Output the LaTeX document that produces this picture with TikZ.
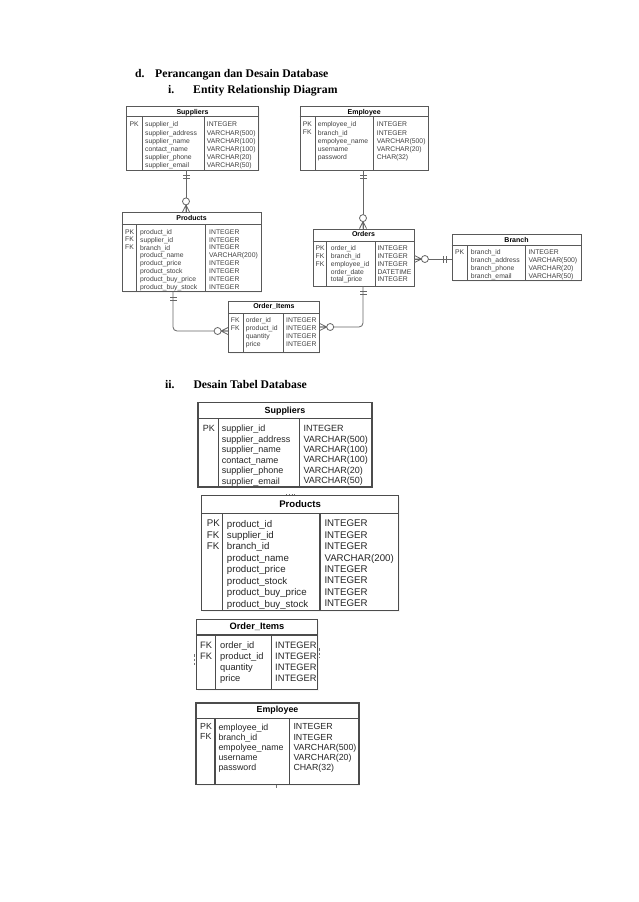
\documentclass[tikz,border=0pt]{standalone}
\usepackage{fontspec}
\setmainfont{Liberation Serif}
\setsansfont{Liberation Sans}
\usetikzlibrary{fit,shadows}
\tikzstyle{heading} = [font=\bfseries\fontsize{11.7}{14}\selectfont, inner sep=0pt, anchor=base west]
\tikzstyle{erd} = [draw=black!65, line width=0.8pt, fill=white, inner sep=0pt, drop shadow={opacity=0.07, shadow xshift=1pt, shadow yshift=-1pt}]
\tikzstyle{erdgrid} = [draw=black!65, line width=0.8pt]
\tikzstyle{erdhead} = [font=\sffamily\bfseries\fontsize{7}{8}\selectfont, inner sep=0pt]
\tikzstyle{tbl} = [draw=black!70, line width=1.1pt, fill=white, inner sep=0pt, drop shadow={opacity=0.08, shadow xshift=1.2pt, shadow yshift=-1.2pt}]
\tikzstyle{tblgrid} = [draw=black!70, line width=1.1pt]
\tikzstyle{rel} = [draw=black!60, line width=0.8pt, rounded corners=4pt]
\tikzset{
  erdcol/.style={anchor=north west, inner sep=0pt, align=left, text=black!75, font=\sffamily\fontsize{6.8}{#1}\selectfont, yshift=2.45pt},
  erdcol/.default=8,
  dcol/.style 2 args={anchor=north west, inner sep=0pt, align=left, text=black!85, font=\sffamily\fontsize{#1}{#2}\selectfont, yshift=0.36*#1pt},
  dhead/.style={font=\sffamily\bfseries\fontsize{#1}{#1}\selectfont, inner sep=0pt},
  one/.pic={\draw[black!60, line width=0.8pt] (5,-3.5) -- (5,3.5) (8,-3.5) -- (8,3.5);},
  zmany/.pic={\draw[black!60, line width=0.8pt] (0,-3.5) -- (7,0) -- (0,3.5) (0,0) -- (7,0);
    \draw[black!60, line width=0.8pt, fill=white] (10.5,0) circle (3.5pt);}
}
% header line and the two column lines of a table
\newcommand{\tablegrid}[5]{\draw[#1] (#2.west |- 0,#3) -- (#2.east |- 0,#3)
  (#4,#3) -- (#4,0 |- #2.south) (#5,#3) -- (#5,0 |- #2.south);}

\begin{document}
\begin{tikzpicture}[x=1pt, y=-1pt]
    \fill[white] (0,0) rectangle (638,902);
    \useasboundingbox (0,0) rectangle (638,902);
    % headings
    \node[heading] (hd) at (135,77.5) {d.};
    \node[heading] (hd-t) at (155,77.5) {Perancangan dan Desain Database};
    \node[heading] (hi) at (168,93.5) {i.};
    \node[heading] (hi-t) at (193,93.5) {Entity Relationship Diagram};
    \node[heading] (hii) at (165,388.3) {ii.};
    \node[heading] (hii-t) at (193.3,388.3) {Desain Tabel Database};

    % ERD
    \node[erd, fit={(126.5,106.5) (258.5,170)}] (sup) {};
    \tablegrid{erdgrid}{sup}{116.8}{142.3}{204.3}
    \node[erdhead] (sup-h) at (sup.north |- 0,112.3) {Suppliers};
    \node[erdcol=8.2] (sup-k) at (129.3,124.3) {PK};
    \node[erdcol=8.2] (sup-n) at (145,124.3) {supplier\_id\\supplier\_address\\supplier\_name\\contact\_name\\supplier\_phone\\supplier\_email};
    \node[erdcol=8.2] (sup-y) at (206.7,124.3) {INTEGER\\VARCHAR(500)\\VARCHAR(100)\\VARCHAR(100)\\VARCHAR(20)\\VARCHAR(50)};

    \node[erd, fit={(300,106.7) (428.3,170)}] (emp) {};
    \tablegrid{erdgrid}{emp}{116.8}{315}{373.3}
    \node[erdhead] (emp-h) at (emp.north |- 0,112.3) {Employee};
    \node[erdcol=8.2] (emp-k) at (302.7,124.3) {PK\\FK};
    \node[erdcol=8.2] (emp-n) at (317.7,124.3) {employee\_id\\branch\_id\\empolyee\_name\\username\\password};
    \node[erdcol=8.2] (emp-y) at (376.7,124.3) {INTEGER\\INTEGER\\VARCHAR(500)\\VARCHAR(20)\\CHAR(32)};

    \node[erd, fit={(122,212.3) (261,291.7)}] (prod) {};
    \tablegrid{erdgrid}{prod}{224.3}{136.7}{205.7}
    \node[erdhead] (prod-h) at (prod.north |- 0,217.7) {Products};
    \node[erdcol=7.86] (prod-k) at (125,231.7) {PK\\FK\\FK};
    \node[erdcol=7.86] (prod-n) at (140,231.7) {product\_id\\supplier\_id\\branch\_id\\product\_name\\product\_price\\product\_stock\\product\_buy\_price\\product\_buy\_stock};
    \node[erdcol=7.86] (prod-y) at (209,231.7) {INTEGER\\INTEGER\\INTEGER\\VARCHAR(200)\\INTEGER\\INTEGER\\INTEGER\\INTEGER};

    \node[erd, fit={(313,229) (414,286)}] (ord) {};
    \tablegrid{erdgrid}{ord}{241}{326}{375}
    \node[erdhead] (ord-h) at (ord.north |- 0,234.3) {Orders};
    \node[erdcol=7.75] (ord-k) at (315.5,248.3) {PK\\FK\\FK};
    \node[erdcol=7.75] (ord-n) at (330.7,248.3) {order\_id\\branch\_id\\employee\_id\\order\_date\\total\_price};
    \node[erdcol=7.75] (ord-y) at (377.3,248.3) {INTEGER\\INTEGER\\INTEGER\\DATETIME\\INTEGER};

    \node[erd, fit={(452,234.3) (581,280.7)}] (bra) {};
    \tablegrid{erdgrid}{bra}{245}{467}{525}
    \node[erdhead] (bra-h) at (bra.north |- 0,239.5) {Branch};
    \node[erdcol=8.1] (bra-k) at (455,251.7) {PK};
    \node[erdcol=8.1] (bra-n) at (470.7,251.7) {branch\_id\\branch\_address\\branch\_phone\\branch\_email};
    \node[erdcol=8.1] (bra-y) at (528.3,251.7) {INTEGER\\VARCHAR(500)\\VARCHAR(20)\\VARCHAR(50)};

    \node[erd, fit={(228.5,301) (319.3,352.5)}] (oi) {};
    \tablegrid{erdgrid}{oi}{313}{243}{283}
    \node[erdhead] (oi-h) at (oi.north |- 0,306.7) {Order\_Items};
    \node[erdcol] (oi-k) at (230.7,320) {FK\\FK};
    \node[erdcol] (oi-n) at (245.7,320) {order\_id\\product\_id\\quantity\\price};
    \node[erdcol] (oi-y) at (286,320) {INTEGER\\INTEGER\\INTEGER\\INTEGER};

    % relations
    \draw[rel] (186,0 |- sup.south) -- (186,0 |- prod.north);
    \pic[rotate=-90] at (186,0 |- sup.south) {one};
    \pic[rotate=90] at (186,0 |- prod.north) {zmany};
    \draw[rel] (363,0 |- emp.south) -- (363,0 |- ord.north);
    \pic[rotate=-90] at (363,0 |- emp.south) {one};
    \pic[rotate=90] at (363,0 |- ord.north) {zmany};
    \draw[rel] (bra.west |- 0,259) -- (ord.east |- 0,259);
    \pic[rotate=180] at (bra.west |- 0,259) {one};
    \pic at (ord.east |- 0,259) {zmany};
    \draw[rel] (173,0 |- prod.south) |- (oi.west |- 0,331);
    \pic[rotate=-90] at (173,0 |- prod.south) {one};
    \pic[rotate=180] at (oi.west |- 0,331) {zmany};
    \draw[rel] (363,0 |- ord.south) |- (oi.east |- 0,327);
    \pic[rotate=-90] at (363,0 |- ord.south) {one};
    \pic at (oi.east |- 0,327) {zmany};

    % table design
    \node[tbl, fit={(198,402.3) (372,487)}] (tsup) {};
    \tablegrid{tblgrid}{tsup}{418.3}{218.3}{299.3}
    \node[dhead=8.9] (tsup-h) at (tsup.north |- 0,410.7) {Suppliers};
    \node[dcol={9}{10.45}] (tsup-k) at (202.7,428.3) {PK};
    \node[dcol={9}{10.45}] (tsup-n) at (221.7,428.3) {supplier\_id\\supplier\_address\\supplier\_name\\contact\_name\\supplier\_phone\\supplier\_email};
    \node[dcol={9}{10.45}] (tsup-y) at (303.3,428.3) {INTEGER\\VARCHAR(500)\\VARCHAR(100)\\VARCHAR(100)\\VARCHAR(20)\\VARCHAR(50)};

    \node[tbl, fit={(201.7,495.7) (398.5,610.7)}] (tprod) {};
    \tablegrid{tblgrid}{tprod}{513.3}{222.7}{320}
    \node[dhead=9.6] (tprod-h) at (tprod.north |- 0,504.3) {Products};
    \node[dcol={9.7}{11.43}] (tprod-k) at (206.7,523.3) {PK\\FK\\FK};
    \node[dcol={9.7}{11.43}] (tprod-n) at (226.7,523.3) {product\_id\\supplier\_id\\branch\_id\\product\_name\\product\_price\\product\_stock\\product\_buy\_price\\product\_buy\_stock};
    \node[dcol={9.7}{11.43}] (tprod-y) at (324.3,523.3) {INTEGER\\INTEGER\\INTEGER\\VARCHAR(200)\\INTEGER\\INTEGER\\INTEGER\\INTEGER};

    \node[tbl, fit={(196.5,619.3) (317.5,689.3)}] (toi) {};
    \tablegrid{tblgrid}{toi}{635}{215.7}{271.7}
    \node[dhead=9.3] (toi-h) at (toi.north |- 0,626.7) {Order\_Items};
    \node[dcol={9.3}{11.1}] (toi-k) at (200,645) {FK\\FK};
    \node[dcol={9.3}{11.1}] (toi-n) at (220,645) {order\_id\\product\_id\\quantity\\price};
    \node[dcol={9.3}{11.1}] (toi-y) at (275,645) {INTEGER\\INTEGER\\INTEGER\\INTEGER};

    \node[tbl, fit={(196,703) (359,784.3)}] (temp) {};
    \tablegrid{tblgrid}{temp}{718.3}{215}{289.3}
    \node[dhead=8.8] (temp-h) at (temp.north |- 0,710) {Employee};
    \node[dcol={8.8}{10.15}] (temp-k) at (200,726.7) {PK\\FK};
    \node[dcol={8.8}{10.15}] (temp-n) at (218.3,726.7) {employee\_id\\branch\_id\\empolyee\_name\\username\\password};
    \node[dcol={8.8}{10.15}] (temp-y) at (293.3,726.7) {INTEGER\\INTEGER\\VARCHAR(500)\\VARCHAR(20)\\CHAR(32)};

    % cut-off marks left from the screenshots
    \draw[black!55, line width=0.8pt, dotted] (286,494) -- (297,494);
    \draw[black!55, line width=0.8pt, dash pattern=on 2.5pt off 2pt] (194.3,654) -- (194.3,665);
    \draw[black!55, line width=0.8pt, dash pattern=on 2.5pt off 2pt] (319.5,648) -- (319.5,658);
    \draw[black!55, line width=0.7pt] (276,785) -- (276,788);
\end{tikzpicture}
\end{document}
